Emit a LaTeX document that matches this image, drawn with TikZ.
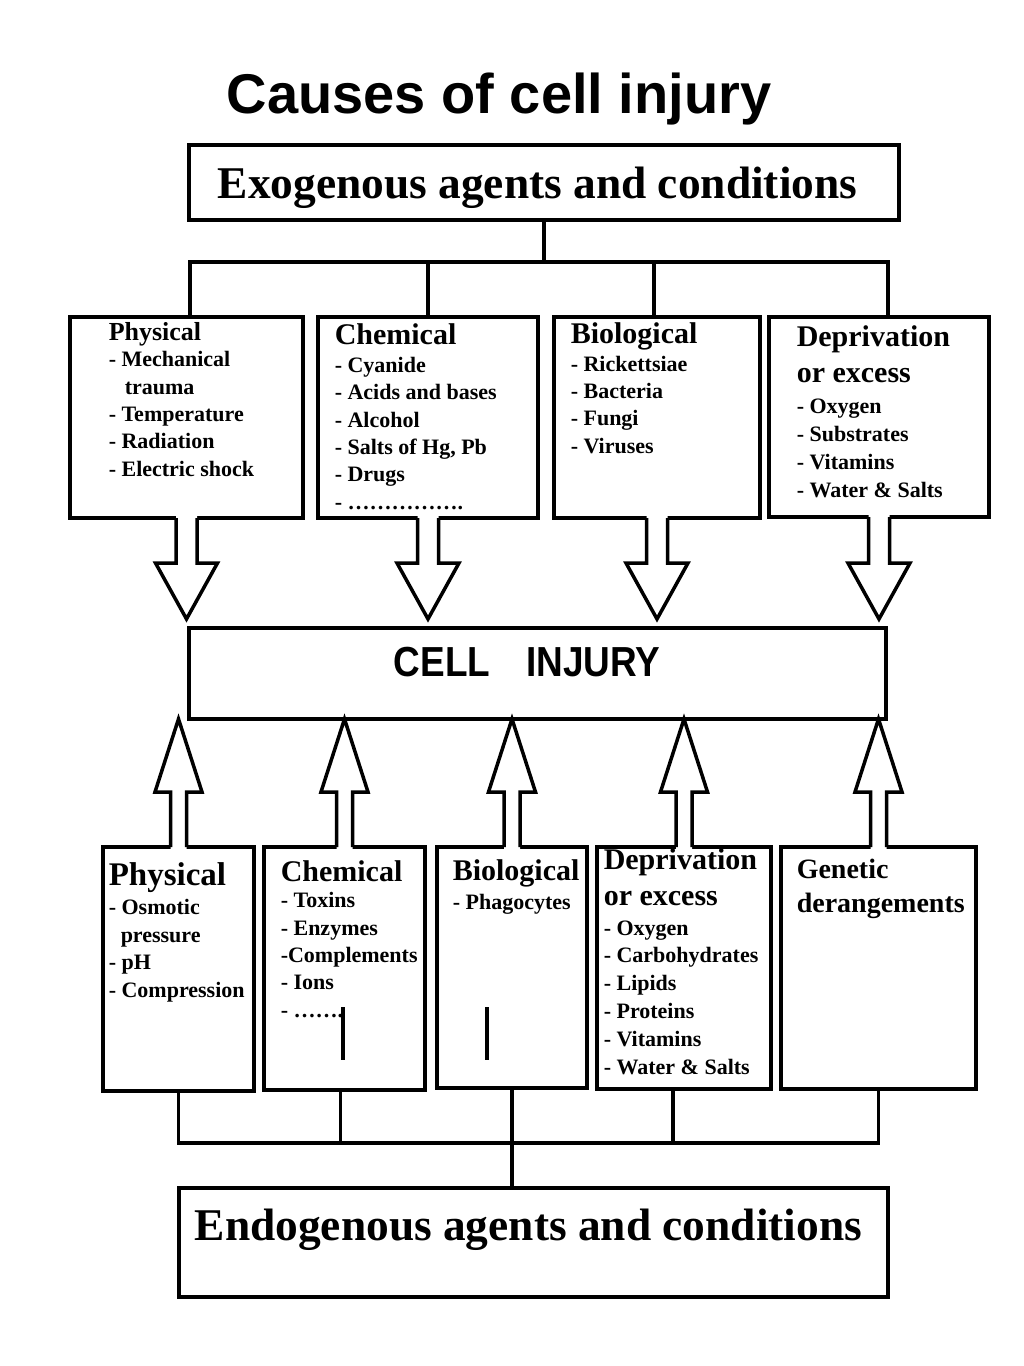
\documentclass[tikz,border=0pt]{standalone}
\usepackage{fontspec}
\usepackage{graphicx}
\setmainfont{Liberation Serif}
\newfontfamily\arialfont{Liberation Sans}
\usetikzlibrary{calc}

% hollow block arrow: base, tip, half shaft, half head, head length
\newcommand{\fatarrow}[5]{%
  \coordinate (fab) at (#1);
  \coordinate (fat) at (#2);
  \coordinate (fah) at ($(fat)!#5!(fab)$);
  \coordinate (fac) at ($(fab)!-3pt!(fat)$);
  \fill[white] ($(fac)+(-#3,0)$) -- ($(fah)+(-#3,0)$) -- ($(fah)+(-#4,0)$) -- (fat) -- ($(fah)+(#4,0)$) -- ($(fah)+(#3,0)$) -- ($(fac)+(#3,0)$) -- cycle;
  \draw ($(fab)+(-#3,0)$) -- ($(fah)+(-#3,0)$) -- ($(fah)+(-#4,0)$) -- (fat) -- ($(fah)+(#4,0)$) -- ($(fah)+(#3,0)$) -- ($(fab)+(#3,0)$);
}

\begin{document}
\begin{tikzpicture}[x=1pt, y=-1pt, line width=3.5pt,
  box/.style = {draw, rectangle, inner sep=0pt, outer sep=0pt},
  hd/.style = {anchor=base west, inner sep=0pt, align=left, font=\bfseries\fontsize{30}{36}\selectfont},
  itm/.style = {anchor=base west, inner sep=0pt, align=left, font=\bfseries\fontsize{22}{27.3}\selectfont}]
\useasboundingbox (0,0) rectangle (1024,1366);

\node[anchor=base west, inner sep=0pt, font=\arialfont\bfseries\fontsize{56}{60}\selectfont] (title) at (225,113) {Causes of cell injury};

% boxes
\node[box, minimum width=710, minimum height=75] (exo) at (544,182.5) {};
\node[box, minimum width=233, minimum height=201] (tphys) at (186.5,417.5) {};
\node[box, minimum width=220, minimum height=201] (tchem) at (428,417.5) {};
\node[box, minimum width=206, minimum height=201] (tbio) at (657,417.5) {};
\node[box, minimum width=220, minimum height=200] (tdepr) at (879,417) {};
\node[box, minimum width=697, minimum height=91] (cell) at (537.5,673.5) {};
\node[box, minimum width=151, minimum height=244] (bphys) at (178.5,969) {};
\node[box, minimum width=161, minimum height=243] (bchem) at (344.5,968.5) {};
\node[box, minimum width=150, minimum height=241] (bbio) at (512,967.5) {};
\node[box, minimum width=174, minimum height=242] (bdepr) at (684,968) {};
\node[box, minimum width=195, minimum height=242] (bgen) at (878.5,968) {};
\node[box, minimum width=709, minimum height=109] (endo) at (533.5,1242.5) {};

% texts (base = last line)
\node[anchor=base west, inner sep=0pt, font=\bfseries\fontsize{45.4}{50}\selectfont] (exotxt) at (216,198) {Exogenous agents and conditions};
\node[hd, font=\bfseries\fontsize{26}{30}\selectfont] (tphyshd) at (107,340) {Physical};
\node[itm] (tphysit) at (107,476) {- Mechanical\\\hspace*{16pt}trauma\\- Temperature\\- Radiation\\- Electric shock};
\node[hd] (tchemhd) at (333,344) {Chemical};
\node[itm] (tchemit) at (333,509) {- Cyanide\\- Acids and bases\\- Alcohol\\- Salts of Hg, Pb\\- Drugs\\- …………….};
\node[hd] (tbiohd) at (569,343) {Biological};
\node[itm] (tbioit) at (569,453) {- Rickettsiae\\- Bacteria\\- Fungi\\- Viruses};
\node[hd] (tdeprhd) at (795,382) {Deprivation\\or excess};
\node[itm, font=\bfseries\fontsize{22}{28}\selectfont] (tdeprit) at (795,497) {- Oxygen\\- Substrates\\- Vitamins\\- Water \& Salts};

\node[anchor=base west, inner sep=0pt, font=\arialfont\bfseries\fontsize{42}{42}\selectfont] (celltxt) at (392,676) {\scalebox{0.88}[1]{CELL\hspace{41pt}INJURY}};

\node[hd, font=\bfseries\fontsize{33}{36}\selectfont] (bphyshd) at (107,885) {Physical};
\node[itm, font=\bfseries\fontsize{22}{27.4}\selectfont] (bphysit) at (107,997) {- Osmotic\\\hspace*{12pt}pressure\\- pH\\- Compression};
\node[hd] (bchemhd) at (279,881) {Chemical};
\node[itm] (bchemit) at (279,1017) {- Toxins\\- Enzymes\\-Complements\\- Ions\\- …….};
\node[hd] (bbiohd) at (451,880) {Biological};
\node[itm] (bbioit) at (451,909) {- Phagocytes};
\node[hd] (bdeprhd) at (602,905) {Deprivation\\or excess};
\node[itm, font=\bfseries\fontsize{22}{27.8}\selectfont] (bdeprit) at (602,1074) {- Oxygen\\- Carbohydrates\\- Lipids\\- Proteins\\- Vitamins\\- Water \& Salts};
\node[hd, font=\bfseries\fontsize{28}{34}\selectfont] (bgenhd) at (795,912) {Genetic\\derangements};

\node[anchor=base west, inner sep=0pt, font=\bfseries\fontsize{45.4}{50}\selectfont] (endotxt) at (193,1240) {Endogenous agents and conditions};

% tree above
\coordinate (topbar) at (544,262);
\draw (exo.south) -- (topbar);
\draw ([xshift=3.5]tphys.north) |- (topbar) -| ([xshift=9]tdepr.north);
\draw (tchem.north) -- (tchem.north |- topbar);
\draw ([xshift=-3]tbio.north) -- ([xshift=-3]tbio.north |- topbar);

% arrows into cell injury
\fatarrow{tphys.south}{$(tphys.south |- cell.north)+(0,-9)$}{10.5}{31}{56pt}
\fatarrow{tchem.south}{$(tchem.south |- cell.north)+(0,-9)$}{10.5}{31}{56pt}
\fatarrow{tbio.south}{$(tbio.south |- cell.north)+(0,-9)$}{10.5}{31}{56pt}
\fatarrow{tdepr.south}{$(tdepr.south |- cell.north)+(0,-9)$}{10.5}{31}{56pt}
\fatarrow{bphys.north}{bphys.north |- cell.south}{8}{23.5}{73pt}
\fatarrow{bchem.north}{bchem.north |- cell.south}{8}{23.5}{73pt}
\fatarrow{bbio.north}{bbio.north |- cell.south}{8}{23.5}{73pt}
\fatarrow{bdepr.north}{bdepr.north |- cell.south}{8}{23.5}{73pt}
\fatarrow{bgen.north}{bgen.north |- cell.south}{8}{23.5}{73pt}

\draw (343,1007) -- (343,1060);
\draw (487,1007) -- (487,1060);

% tree below
\coordinate (botbar) at (512,1143);
\draw (bphys.south) |- (botbar) -| (bgen.south);
\draw ([xshift=-4]bchem.south) -- ([xshift=-4]bchem.south |- botbar);
\draw ([xshift=-11]bdepr.south) -- ([xshift=-11]bdepr.south |- botbar);
\draw (bbio.south) -- (bbio.south |- endo.north);
\end{tikzpicture}
\end{document}
